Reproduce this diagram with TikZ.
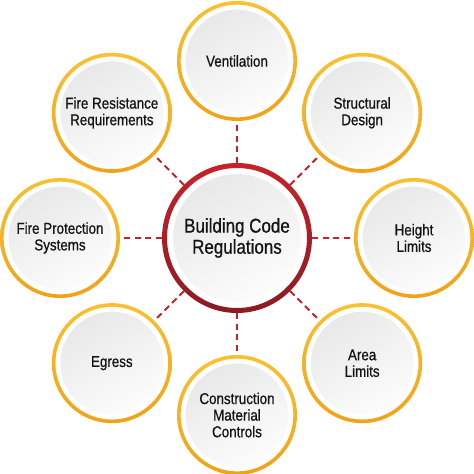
\documentclass[tikz,border=0pt]{standalone}
\usepackage{fontspec}
\setmainfont{Liberation Sans}[FakeStretch=0.85, FakeBold=0.7]
\usetikzlibrary{calc}
\definecolor{ringyellow}{HTML}{FBC030}
\definecolor{ringorange}{HTML}{F2A218}
\definecolor{hubred}{HTML}{C8222B}
\definecolor{hubdark}{HTML}{8C1B22}
\definecolor{linkred}{HTML}{C8202A}
\definecolor{txt}{HTML}{141414}
\tikzset{
  topic/.style={circle, minimum size=2.7cm, inner sep=0pt, draw=white, line width=0.125cm,
    top color=black!9, bottom color=black!1, shading angle=30, text=txt, align=center,
    font=\fontsize{11.2}{11.8}\selectfont},
  hub/.style={circle, minimum size=3.35cm, inner sep=0pt, draw=white, line width=0.15cm,
    top color=black!9, bottom color=black!1, shading angle=30, text=txt, align=center,
    font=\fontsize{14.2}{15}\selectfont},
  link/.style={draw=linkred, line width=1.3pt, dash pattern=on 4.5pt off 3pt,
    shorten <=0.125cm, shorten >=0.09cm}
}
\begin{document}
\begin{tikzpicture}
\useasboundingbox (-5.925,-5.9) rectangle (5.925,5.95);
\coordinate (O) at (0,0);
\node[hub] (hub) at (O) {Building Code\\Regulations};
\shade[top color=hubred, bottom color=hubdark, even odd rule] (O) circle (1.875) circle (1.75);
\foreach \k/\text in {90/Ventilation, 45/{Structural\\Design}, 0/{Height\\Limits}, -45/{Area\\Limits},
  -90/{Construction\\Material\\Controls}, -135/Egress, 180/{Fire Protection\\Systems},
  135/{Fire Resistance\\Requirements}}
{
  \node[topic] (t\k) at (\k:4.425) {\text};
  \shade[top color=ringyellow, bottom color=ringorange, even odd rule] (t\k.center) circle (1.5) circle (1.41);
  \draw[link] (hub) -- (t\k);
}
\end{tikzpicture}
\end{document}
